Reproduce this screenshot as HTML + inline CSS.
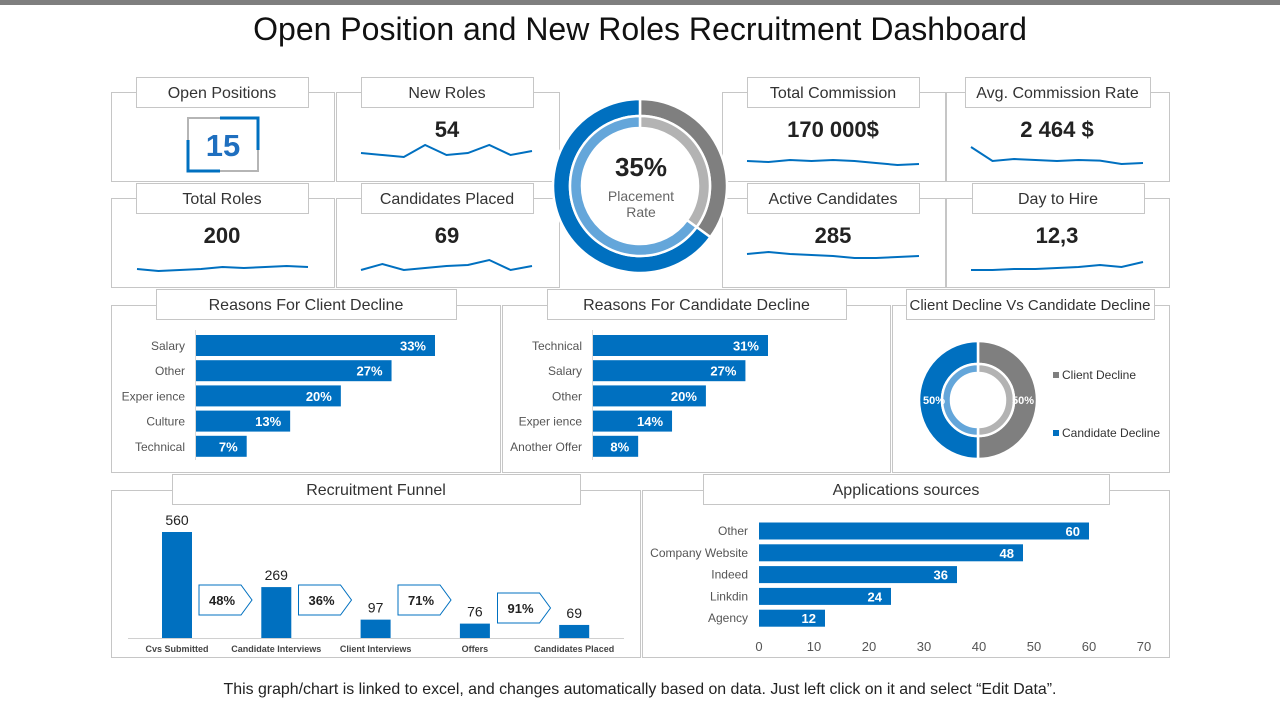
<!DOCTYPE html>
<html><head><meta charset="utf-8">
<style>
html,body{margin:0;padding:0;background:#fff;}
svg{display:block;font-family:"Liberation Sans",Arial,sans-serif;}
</style></head>
<body>
<svg id="s" width="1280" height="720" viewBox="0 0 1280 720" xmlns="http://www.w3.org/2000/svg">
<rect x="0" y="0" width="1280" height="5" fill="#7f7f7f"/>
<text x="640" y="40" text-anchor="middle" font-size="32" fill="#111">Open Position and New Roles Recruitment Dashboard</text>
<text x="640" y="694" text-anchor="middle" font-size="15.9" fill="#222">This graph/chart is linked to excel, and changes automatically  based on data. Just left click on it and select “Edit Data”.</text>
<g id="g"></g>
</svg>
<script>
// ---- data ----
const kpiNames = ["Open Positions","New Roles","Total Roles","Candidates Placed","Total Commission","Avg. Commission Rate","Active Candidates","Day to Hire"];
const kpiValues = ["15","54","200","69","170 000$","2 464 $","285","12,3"];
const sparkNewRoles = [4,3,2,8,3,4,8,3,5];
const sparkTotalRoles = [2,1,1.5,2,3,2.5,3,3.5,3];
const sparkCandidatesPlaced = [2,5,2,3,4,4.5,7,2,4];
const sparkTotalCommission = [3,2.5,3.5,3,3.5,3,2,1,1.5];
const sparkAvgCommission = [10,3,4,3.5,3,3.5,3.2,1.5,2];
const sparkActiveCandidates = [4,5,4,3.5,3,2,2,2.5,3];
const sparkDayToHire = [1,1,1.5,1.5,2,2.5,3.5,2.5,5];
const placementRate = 35;
const clientCats = ["Salary","Other","Exper ience","Culture","Technical"];
const clientVals = [33,27,20,13,7];
const candCats = ["Technical","Salary","Other","Exper ience","Another Offer"];
const candVals = [31,27,20,14,8];
const declineSplit = [50,50];
const declineLabels = ["Client Decline","Candidate Decline"];
const funnelCats = ["Cvs Submitted","Candidate Interviews","Client Interviews","Offers","Candidates Placed"];
const funnelVals = [560,269,97,76,69];
const funnelRates = ["48%","36%","71%","91%"];
const srcCats = ["Other","Company Website","Indeed","Linkdin","Agency"];
const srcVals = [60,48,36,24,12];
const srcTicks = [0,10,20,30,40,50,60,70];

const NS="http://www.w3.org/2000/svg";
const G=document.getElementById('g');
function el(tag,attrs,parent,txt){const e=document.createElementNS(NS,tag);for(const k in attrs)e.setAttribute(k,attrs[k]);if(txt!==undefined)e.textContent=txt;(parent||G).appendChild(e);return e;}
const BLUE="#0070c0",GREY="#7f7f7f",BORD="#c6c6c6";

function panel(x,y,w,h,tx,tw,ty,title,name,fs){
  const r=el('rect',{x:x+.5,y:y+.5,width:w,height:h,fill:'#fff',stroke:BORD,'stroke-width':1});
  
  
  const t=el('rect',{x:tx+.5,y:ty+.5,width:tw,height:30,fill:'#fff',stroke:BORD,'stroke-width':1});
  
  
  const tt=el('text',{x:tx+tw/2,y:ty+21,'text-anchor':'middle','font-size':fs||16,fill:'#333'},null,title);
  
  
}
const kp=[[111,92,136,0],[336,92,361,1],[111,198,136,2],[336,198,361,3],[722,92,747,4],[946,92,965,5],[722,198,747,6],[946,198,972,7]];
const tws=[172,172,172,172,172,185,172,172];
kp.forEach((p,i)=>{panel(p[0],p[1],223,89,p[2],tws[i],p[1]-15,kpiNames[p[3]],'kpi-'+i);});
kp.forEach((p,i)=>{ if(i===0)return;
  const t=el('text',{x:p[0]+111,y:p[1]+45,'text-anchor':'middle','font-size':22,'font-weight':'bold',fill:'#222'},null,kpiValues[i]);
  
  
});
el('rect',{x:188,y:118,width:70,height:53,fill:'none',stroke:'#b5b5b5','stroke-width':2});
el('path',{d:'M220 118 H258 V150 M188 140 V171 H220',fill:'none',stroke:BLUE,'stroke-width':3});
const op=el('text',{x:223,y:156,'text-anchor':'middle','font-size':31,'font-weight':'bold',fill:'#1f6fbf'},null,kpiValues[0]);


function spark(vals,x0,x1,base,name){
  const step=(x1-x0)/(vals.length-1);
  const pts=vals.map((v,i)=>(x0+i*step).toFixed(1)+','+(base-2*v).toFixed(1)).join(' ');
  const p=el('polyline',{points:pts,fill:'none',stroke:BLUE,'stroke-width':2});
  
  
}
spark(sparkNewRoles,361,532,161,'new-roles-sparkline');
spark(sparkTotalRoles,137,308,273,'total-roles-sparkline');
spark(sparkCandidatesPlaced,361,532,274,'candidates-placed-sparkline');
spark(sparkTotalCommission,747,919,167,'total-commission-sparkline');
spark(sparkAvgCommission,971,1143,167,'avg-commission-sparkline');
spark(sparkActiveCandidates,747,919,262,'active-candidates-sparkline');
spark(sparkDayToHire,971,1143,272,'day-to-hire-sparkline');

function arc(cx,cy,r0,r1,a0,a1,fill,name){
  const large=(a1-a0)>Math.PI?1:0;
  const p=(r,a)=>(cx+r*Math.sin(a)).toFixed(2)+' '+(cy-r*Math.cos(a)).toFixed(2);
  const d='M'+p(r1,a0)+' A'+r1+' '+r1+' 0 '+large+' 1 '+p(r1,a1)+' L'+p(r0,a1)+' A'+r0+' '+r0+' 0 '+large+' 0 '+p(r0,a0)+'Z';
  const e=el('path',{d:d,fill:fill,stroke:'#fff','stroke-width':2.5});
  
  
}
const T=2*Math.PI;
const aP=placementRate/100*T;
arc(640,186,70,87,0,aP,GREY,'placement-slice-outer');
arc(640,186,70,87,aP,T-0.0001,BLUE,'remaining-slice-outer');
arc(640,186,58,70,0,aP,'#b3b3b3','placement-slice-inner');
arc(640,186,58,70,aP,T-0.0001,'#64a6da','remaining-slice-inner');
let t=el('text',{x:641,y:176,'text-anchor':'middle','font-size':26,'font-weight':'bold',fill:'#222'},null,placementRate+'%');


el('text',{x:641,y:201,'text-anchor':'middle','font-size':14,fill:'#666'},null,'Placement');
el('text',{x:641,y:217,'text-anchor':'middle','font-size':14,fill:'#666'},null,'Rate');

panel(111,305,389,167,156,300,289,'Reasons For Client Decline','client-decline',16);
panel(502,305,388,167,547,299,289,'Reasons For Candidate Decline','candidate-decline',16);
panel(892,305,277,167,906,248,289,'Client Decline Vs Candidate Decline','decline-compare',15);
function hbars(cats,vals,x0,scale,prefix){
  el('line',{x1:x0-0.5,y1:330,x2:x0-0.5,y2:460,stroke:'#d9d9d9'});
  cats.forEach((c,i)=>{
    const yc=345.5+i*25.2, w=vals[i]*scale;
    const r=el('rect',{x:x0,y:yc-10.5,width:w,height:21,fill:BLUE});
    
    
    el('text',{x:x0-11,y:yc+4.5,'text-anchor':'end','font-size':12,fill:'#555'},null,c);
    el('text',{x:x0+w-9,y:yc+5,'text-anchor':'end','font-size':13,'font-weight':'bold',fill:'#fff'},null,vals[i]+'%');
  });
}
hbars(clientCats,clientVals,196,239/33,'client-decline');
hbars(candCats,candVals,593,175/31,'candidate-decline');
const aD=declineSplit[0]/100*T;
arc(978,400,36,59,0,aD,GREY,'client-decline-slice');
arc(978,400,36,59,aD,T-0.0001,BLUE,'candidate-decline-slice');
arc(978,400,27,36,0,aD,'#b3b3b3','client-decline-inner');
arc(978,400,27,36,aD,T-0.0001,'#64a6da','candidate-decline-inner');
el('text',{x:1023,y:404,'text-anchor':'middle','font-size':11,'font-weight':'bold',fill:'#fff'},null,declineSplit[0]+'%');
el('text',{x:934,y:404,'text-anchor':'middle','font-size':11,'font-weight':'bold',fill:'#fff'},null,declineSplit[1]+'%');
[[GREY,377],[BLUE,435]].forEach((l,i)=>{
  const r=el('rect',{x:1053,y:l[1]-5,width:6,height:6,fill:l[0]});
  
  
  el('text',{x:1062,y:l[1]+2,'font-size':12,fill:'#333'},null,declineLabels[i]);
});

panel(111,490,529,167,172,408,474,'Recruitment Funnel','funnel',16);
el('line',{x1:128,y1:638.5,x2:624,y2:638.5,stroke:'#d0d0d0'});
const fScale=106/560;
funnelCats.forEach((c,i)=>{
  const xc=177+i*99.3, h=funnelVals[i]*fScale;
  const r=el('rect',{x:xc-15,y:638-h,width:30,height:h,fill:BLUE});
  
  
  el('text',{x:xc,y:638-h-7,'text-anchor':'middle','font-size':14,fill:'#222'},null,funnelVals[i]);
  el('text',{x:xc,y:652,'text-anchor':'middle','font-size':9,'font-weight':'bold',fill:'#444'},null,c);
});
funnelRates.forEach((r,i)=>{
  const x=199+i*99.5, y=i===3?593:585;
  const p=el('path',{d:`M${x} ${y} H${x+42} L${x+53} ${y+15} L${x+42} ${y+30} H${x} Z`,fill:'#fff',stroke:BLUE,'stroke-width':1});
  
  
  el('text',{x:x+23,y:y+20,'text-anchor':'middle','font-size':13,'font-weight':'bold',fill:'#222'},null,r);
});

panel(642,490,527,167,703,406,474,'Applications sources','sources',16);
const sx0=759, sScale=(1144-759)/70;
srcCats.forEach((c,i)=>{
  const yc=531+i*21.8, w=srcVals[i]*sScale;
  const r=el('rect',{x:sx0,y:yc-8.5,width:w,height:17,fill:BLUE});
  
  
  el('text',{x:sx0-11,y:yc+4,'text-anchor':'end','font-size':12,fill:'#555'},null,c);
  el('text',{x:sx0+w-9,y:yc+5,'text-anchor':'end','font-size':13,'font-weight':'bold',fill:'#fff'},null,srcVals[i]);
});
srcTicks.forEach(v=>{
  const tx=el('text',{x:sx0+v*sScale,y:651,'text-anchor':'middle','font-size':13,fill:'#555'},null,v);
  
  
});
</script>
</body></html>
